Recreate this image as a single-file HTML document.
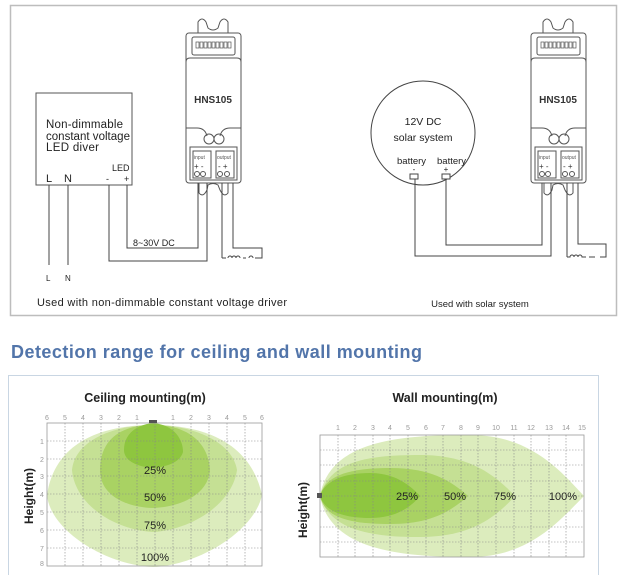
<!DOCTYPE html>
<html><head><meta charset="utf-8"><style>
html,body{margin:0;padding:0;background:#fff;width:626px;height:575px;overflow:hidden}
svg{display:block}
text{font-family:"Liberation Sans","DejaVu Sans",sans-serif}
</style></head><body>
<svg width="626" height="575" viewBox="0 0 626 575" xmlns="http://www.w3.org/2000/svg">
<rect x="10.5" y="5.5" width="606" height="310" fill="none" stroke="#bdbdbd" stroke-width="1.5"/>

<g fill="none" stroke="#555" stroke-width="1">
<path d="M198,33 L198,22 Q202,16 206,22 L208,28 Q213,32 218,28 L220,22 Q224,16 228,22 L228,33"/>
<rect x="186" y="33" width="55" height="150" rx="3"/>
<rect x="192" y="37" width="43" height="18" rx="2"/>
<g stroke-width="0.7"><rect x="196" y="42" width="3" height="6"/><rect x="200" y="42" width="3" height="6"/><rect x="204" y="42" width="3" height="6"/><rect x="208" y="42" width="3" height="6"/><rect x="212" y="42" width="3" height="6"/><rect x="216" y="42" width="3" height="6"/><rect x="220" y="42" width="3" height="6"/><rect x="224" y="42" width="3" height="6"/><rect x="228" y="42" width="3" height="6"/></g>
<path d="M186,62 Q186,58 190,58 L237,58 Q241,58 241,62 M186,128 L197,128 Q205,128 207,136 M241,128 L230,128 Q222,128 220,136"/>
<circle cx="209" cy="139" r="5"/><circle cx="219" cy="139" r="5"/>
<rect x="190" y="147" width="47" height="33"/>
<rect x="193" y="151" width="18" height="27"/><rect x="216" y="151" width="18" height="27"/>
<circle cx="197" cy="174" r="2.5"/><circle cx="203" cy="174" r="2.5"/><circle cx="220" cy="174" r="2.5"/><circle cx="227" cy="174" r="2.5"/>
<path d="M199,183 L199,193 Q203,198 207,190 L208,185 Q213,182 218,185 L220,190 Q224,198 228,193 L228,183"/>
</g>
<text x="213" y="103" font-size="10" font-weight="bold" text-anchor="middle" fill="#333">HNS105</text>
<text x="194" y="159" font-size="5" fill="#555">input</text><text x="217" y="159" font-size="5" fill="#555">output</text>
<text x="194" y="169" font-size="8" fill="#333">+ -</text><text x="218" y="169" font-size="8" fill="#333">- +</text>

<g transform="translate(345,0)">
<g fill="none" stroke="#555" stroke-width="1">
<path d="M198,33 L198,22 Q202,16 206,22 L208,28 Q213,32 218,28 L220,22 Q224,16 228,22 L228,33"/>
<rect x="186" y="33" width="55" height="150" rx="3"/>
<rect x="192" y="37" width="43" height="18" rx="2"/>
<g stroke-width="0.7"><rect x="196" y="42" width="3" height="6"/><rect x="200" y="42" width="3" height="6"/><rect x="204" y="42" width="3" height="6"/><rect x="208" y="42" width="3" height="6"/><rect x="212" y="42" width="3" height="6"/><rect x="216" y="42" width="3" height="6"/><rect x="220" y="42" width="3" height="6"/><rect x="224" y="42" width="3" height="6"/><rect x="228" y="42" width="3" height="6"/></g>
<path d="M186,62 Q186,58 190,58 L237,58 Q241,58 241,62 M186,128 L197,128 Q205,128 207,136 M241,128 L230,128 Q222,128 220,136"/>
<circle cx="209" cy="139" r="5"/><circle cx="219" cy="139" r="5"/>
<rect x="190" y="147" width="47" height="33"/>
<rect x="193" y="151" width="18" height="27"/><rect x="216" y="151" width="18" height="27"/>
<circle cx="197" cy="174" r="2.5"/><circle cx="203" cy="174" r="2.5"/><circle cx="220" cy="174" r="2.5"/><circle cx="227" cy="174" r="2.5"/>
<path d="M199,183 L199,193 Q203,198 207,190 L208,185 Q213,182 218,185 L220,190 Q224,198 228,193 L228,183"/>
</g>
<text x="213" y="103" font-size="10" font-weight="bold" text-anchor="middle" fill="#333">HNS105</text>
<text x="194" y="159" font-size="5" fill="#555">input</text><text x="217" y="159" font-size="5" fill="#555">output</text>
<text x="194" y="169" font-size="8" fill="#333">+ -</text><text x="218" y="169" font-size="8" fill="#333">- +</text>
</g>

<rect x="36" y="93" width="96" height="92" fill="none" stroke="#555" stroke-width="1"/>
<g font-size="11.5" fill="#222"><text x="46" y="128" textLength="77">Non-dimmable</text><text x="46" y="140" textLength="84">constant voltage</text><text x="46" y="151" textLength="53">LED diver</text></g>
<text x="112" y="171" font-size="9" fill="#222">LED</text>
<text x="106" y="182" font-size="9" fill="#222">-</text><text x="124" y="182" font-size="9" fill="#222">+</text>
<text x="46" y="182" font-size="11" fill="#222">L</text><text x="64" y="182" font-size="11" fill="#222">N</text>
<g fill="none" stroke="#444" stroke-width="1">
<path d="M49,185 V265 M68,185 V265"/>
<path d="M109,185 V261 H207 V183"/>
<path d="M127,185 V248 H198 V183"/>
<path d="M222,183 V258 M233,183 V248 H262 V258 H255"/>
<path d="M222,258 h4 m2,0 a2,2 0 1 1 4,0 a2,2 0 1 1 4,0 a2,2 0 1 1 4,0 m3,0 h3 m3,0 a2,2 0 1 1 4,0"/>
</g>
<text x="133" y="246" font-size="9" fill="#222">8~30V DC</text>
<text x="46" y="281" font-size="8" fill="#222">L</text><text x="65" y="281" font-size="8" fill="#222">N</text>
<text x="37" y="306" font-size="11" fill="#222" textLength="250">Used with non-dimmable constant voltage driver</text>

<circle cx="423" cy="133" r="52" fill="none" stroke="#444" stroke-width="1"/>
<text x="423" y="125" font-size="10.5" text-anchor="middle" fill="#222">12V DC</text>
<text x="423" y="141" font-size="10.5" text-anchor="middle" fill="#222">solar system</text>
<text x="397" y="164" font-size="9.5" fill="#222">battery</text><text x="437" y="164" font-size="9.5" fill="#222">battery</text>
<text x="414" y="172" font-size="8" text-anchor="middle" fill="#222">-</text><text x="446" y="172" font-size="8" text-anchor="middle" fill="#222">+</text>
<rect x="410" y="174" width="8" height="5" fill="#fff" stroke="#444"/><rect x="442" y="174" width="8" height="5" fill="#fff" stroke="#444"/>
<g fill="none" stroke="#444" stroke-width="1">
<path d="M415,179 V256 H551 V183"/>
<path d="M446,179 V245 H542 V183"/>
<path d="M567,183 V257 M578,183 V244 H606 V257 H600"/>
<path d="M567,257 h3 a2,2 0 1 1 4,0 a2,2 0 1 1 4,0 a2,2 0 1 1 4,0 h4 m3,0 h6"/>
</g>
<text x="480" y="307" font-size="9.5" text-anchor="middle" fill="#222">Used with solar system</text>

<text x="11" y="358" font-size="18" font-weight="bold" fill="#5275aa" textLength="411">Detection range for ceiling and wall mounting</text>
<rect x="8.5" y="375.5" width="590" height="210" fill="none" stroke="#c9d6e3" stroke-width="1"/>

<text x="145" y="402" font-size="12.5" font-weight="bold" text-anchor="middle" fill="#222">Ceiling mounting(m)</text>
<path d="M153,425 C200,425 250,440 262,495 C255,530 200,565 153,567 C105,565 50,530 47,495 C55,440 105,425 153,425 Z" fill="#dcecbd"/>
<path d="M153,425 C190,425 232,440 237,470 C232,505 190,530 153,532 C115,530 75,505 72,470 C75,440 115,425 153,425Z" fill="#c5e094"/>
<path d="M153,425 C185,425 208,440 210,470 C208,495 180,507 153,508 C125,507 100,495 100,470 C100,440 120,425 153,425Z" fill="#a9d263"/>
<path d="M153,423 C175,425 183,440 183,452 C180,463 165,467 153,468 C140,467 124,462 124,450 C124,435 135,425 153,423Z" fill="#8ec63f"/>
<g stroke="#888" stroke-width="0.6" stroke-dasharray="1.5,1.5" fill="none">
<path d="M65,423V566M83,423V566M101,423V566M119,423V566M137,423V566M155,423V566M173,423V566M191,423V566M209,423V566M227,423V566M245,423V566"/>
<path d="M47,441H262M47,459H262M47,476H262M47,494H262M47,512H262M47,530H262M47,548H262"/>
</g>
<rect x="47" y="423" width="215" height="143" fill="none" stroke="#999" stroke-width="0.8"/>
<rect x="149" y="420" width="8" height="3" fill="#555"/>
<g font-size="7" fill="#999" text-anchor="middle"><text x="47" y="420">6</text><text x="65" y="420">5</text><text x="83" y="420">4</text><text x="101" y="420">3</text><text x="119" y="420">2</text><text x="137" y="420">1</text><text x="173" y="420">1</text><text x="191" y="420">2</text><text x="209" y="420">3</text><text x="227" y="420">4</text><text x="245" y="420">5</text><text x="262" y="420">6</text>
<text x="42" y="444">1</text><text x="42" y="462">2</text><text x="42" y="479">3</text><text x="42" y="497">4</text><text x="42" y="515">5</text><text x="42" y="533">6</text><text x="42" y="551">7</text><text x="42" y="566">8</text></g>
<g font-size="11" fill="#222" text-anchor="middle"><text x="155" y="474">25%</text><text x="155" y="501">50%</text><text x="155" y="529">75%</text><text x="155" y="561">100%</text></g>
<text transform="translate(33,496) rotate(-90)" font-size="12" font-weight="bold" text-anchor="middle" fill="#222">Height(m)</text>

<text x="445" y="402" font-size="12.5" font-weight="bold" text-anchor="middle" fill="#222">Wall mounting(m)</text>
<path d="M320,496 C330,440 400,435 470,435 C530,435 560,470 584,496 C560,520 530,557 470,557 C400,557 330,550 320,496Z" fill="#dcecbd"/>
<path d="M320,496 C330,460 370,455 420,455 C470,455 495,475 515,496 C495,518 470,537 420,537 C370,537 330,530 320,496Z" fill="#c5e094"/>
<path d="M320,496 C325,475 350,468 390,468 C430,468 450,480 468,496 C450,512 430,524 390,524 C350,524 325,518 320,496Z" fill="#a9d263"/>
<path d="M320,496 C325,480 345,473 370,473 C395,473 410,485 420,496 C410,508 395,518 370,518 C345,518 325,512 320,496Z" fill="#8ec63f"/>
<g stroke="#888" stroke-width="0.6" stroke-dasharray="1.5,1.5" fill="none">
<path d="M338,435V557M355,435V557M373,435V557M390,435V557M408,435V557M426,435V557M443,435V557M461,435V557M478,435V557M496,435V557M514,435V557M531,435V557M549,435V557M566,435V557"/>
<path d="M320,450H584M320,465H584M320,481H584M320,496H584M320,511H584M320,527H584M320,542H584"/>
</g>
<rect x="320" y="435" width="264" height="122" fill="none" stroke="#999" stroke-width="0.8"/>
<rect x="317" y="493" width="5" height="5" fill="#555"/>
<g font-size="7" fill="#999" text-anchor="middle"><text x="338" y="430">1</text><text x="355" y="430">2</text><text x="373" y="430">3</text><text x="390" y="430">4</text><text x="408" y="430">5</text><text x="426" y="430">6</text><text x="443" y="430">7</text><text x="461" y="430">8</text><text x="478" y="430">9</text><text x="496" y="430">10</text><text x="514" y="430">11</text><text x="531" y="430">12</text><text x="549" y="430">13</text><text x="566" y="430">14</text><text x="582" y="430">15</text></g>
<g font-size="11" fill="#222" text-anchor="middle"><text x="407" y="500">25%</text><text x="455" y="500">50%</text><text x="505" y="500">75%</text><text x="563" y="500">100%</text></g>
<text transform="translate(307,510) rotate(-90)" font-size="12" font-weight="bold" text-anchor="middle" fill="#222">Height(m)</text>
</svg>
</body></html>
